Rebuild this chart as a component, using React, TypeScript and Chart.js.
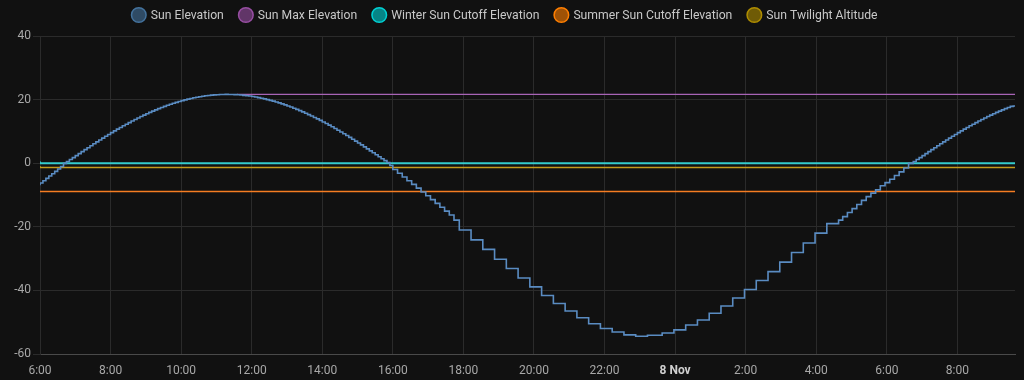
import React, { useEffect, useRef } from 'react';
import { Chart, registerables } from 'chart.js';

Chart.register(...registerables);

// x values are minutes since 06:00 on 7 Nov
const seriesNames = [
  'Sun Elevation',
  'Sun Max Elevation',
  'Winter Sun Cutoff Elevation',
  'Summer Sun Cutoff Elevation',
  'Sun Twilight Altitude',
];

const xTickLabels = ['6:00', '8:00', '10:00', '12:00', '14:00', '16:00', '18:00', '20:00', '22:00', '8 Nov', '2:00', '4:00', '6:00', '8:00'];
const xTickMinutes = [0, 120, 240, 360, 480, 600, 720, 840, 960, 1080, 1200, 1320, 1440, 1560];
const yTickValues = [-60, -40, -20, 0, 20, 40];
const xEnd = 1658;

const sunElevation: [number, number][] = [
  [0, -6.96], [5, -6.23], [10, -5.5], [15, -4.76], [20, -4.04], [25, -3.3], [30, -2.58], [35, -1.82], [40, -1.05], [45, -0.04],
  [50, 0.55], [55, 1.15], [60, 1.76], [65, 2.38], [70, 3.0], [75, 3.63], [80, 4.26], [85, 4.88], [90, 5.5], [95, 6.11],
  [100, 6.7], [105, 7.3], [110, 7.89], [115, 8.46], [120, 9.03], [125, 9.6], [130, 10.15], [135, 10.7], [140, 11.23], [145, 11.76],
  [150, 12.27], [155, 12.77], [160, 13.27], [165, 13.75], [170, 14.21], [175, 14.67], [180, 15.12], [185, 15.55], [190, 15.97], [195, 16.38],
  [200, 16.77], [205, 17.15], [210, 17.52], [215, 17.87], [220, 18.21], [225, 18.53], [230, 18.84], [235, 19.13], [240, 19.41], [245, 19.67],
  [250, 19.91], [255, 20.14], [260, 20.36], [265, 20.56], [270, 20.74], [275, 20.9], [280, 21.05], [285, 21.19], [290, 21.3], [295, 21.4],
  [300, 21.48], [305, 21.54], [310, 21.59], [315, 21.62], [320, 21.63], [325, 21.62], [330, 21.6], [335, 21.56], [340, 21.51], [345, 21.43],
  [350, 21.34], [355, 21.23], [360, 21.11], [365, 20.96], [370, 20.8], [375, 20.63], [380, 20.44], [385, 20.23], [390, 20.0], [395, 19.76],
  [400, 19.51], [405, 19.24], [410, 18.96], [415, 18.66], [420, 18.34], [425, 18.01], [430, 17.66], [435, 17.3], [440, 16.92], [445, 16.53],
  [450, 16.14], [455, 15.72], [460, 15.29], [465, 14.85], [470, 14.39], [475, 13.94], [480, 13.46], [485, 12.97], [490, 12.47], [495, 11.97],
  [500, 11.44], [505, 10.91], [510, 10.37], [515, 9.82], [520, 9.26], [525, 8.69], [530, 8.12], [535, 7.54], [540, 6.94], [545, 6.35],
  [550, 5.75], [555, 5.13], [560, 4.52], [565, 3.89], [570, 3.27], [575, 2.65], [580, 2.03], [585, 1.42], [590, 0.82], [595, 0.24],
  [600, -0.7], [608, -1.98], [616, -3.16], [624, -4.33], [632, -5.5], [640, -6.67], [648, -7.85], [656, -9.04], [664, -10.24], [672, -11.44],
  [680, -12.64], [688, -13.86], [696, -15.08], [704, -16.3],
  [713, -17.9], [733, -21.0], [753, -24.1], [773, -27.1], [793, -30.2], [813, -33.1], [833, -36.1], [853, -38.9], [873, -41.6], [893, -44.1],
  [913, -46.5], [933, -48.6], [953, -50.5], [973, -52.0], [993, -53.1], [1013, -54.0], [1033, -54.4], [1058, -54.1], [1078, -53.4], [1098, -52.4],
  [1118, -50.9], [1138, -49.3], [1158, -47.2], [1178, -44.9], [1198, -42.4], [1218, -39.7], [1238, -36.9], [1258, -34.1], [1278, -31.1], [1298, -28.1],
  [1318, -25.1], [1338, -22.0], [1358, -19.0],
  [1365, -17.9], [1373, -16.8], [1381, -15.5], [1389, -14.3], [1397, -13.0], [1405, -11.7], [1413, -10.5], [1421, -9.4], [1429, -8.4], [1437, -7.1],
  [1445, -6.1], [1453, -5.06], [1461, -3.89], [1469, -2.72], [1477, -1.51],
  [1485, -0.04], [1490, 0.55], [1495, 1.15], [1500, 1.76], [1505, 2.38], [1510, 3.0], [1515, 3.63], [1520, 4.26], [1525, 4.88], [1530, 5.5],
  [1535, 6.11], [1540, 6.7], [1545, 7.3], [1550, 7.89], [1555, 8.46], [1560, 9.03], [1565, 9.6], [1570, 10.15], [1575, 10.7], [1580, 11.23],
  [1585, 11.76], [1590, 12.27], [1595, 12.77], [1600, 13.27], [1605, 13.75], [1610, 14.21], [1615, 14.67], [1620, 15.12], [1625, 15.55], [1630, 15.97],
  [1635, 16.38], [1640, 16.77], [1645, 17.15], [1650, 17.52], [1655, 17.87], [1658, 18.0],
];

const sunMaxElevation: [number, number][] = [[335, 21.65], [1658, 21.65]];
const winterCutoff: [number, number][] = [[0, 0.55], [608, 0.0], [1658, 0.0]];
const summerCutoff: [number, number][] = [[0, -8.9], [1658, -8.9]];
const twilightAltitude: [number, number][] = [[0, -0.9], [1079, -1.35], [1658, -1.35]];

const seriesData = [sunElevation, sunMaxElevation, winterCutoff, summerCutoff, twilightAltitude];
const lineColors = ['#5a8cc2', '#a864b6', '#34cccd', '#f57d22', '#c49c1c'];
const legendColors = ['#44739e', '#984ea3', '#00d2d5', '#ff7f00', '#af8d00'];
const lineWidths = [1.6, 1.4, 2, 1.4, 1.4];

const FONT = 'Roboto, "Noto Sans", sans-serif';

function rgba(hex: string, a: number) {
  const n = parseInt(hex.slice(1), 16);
  return `rgba(${(n >> 16) & 255},${(n >> 8) & 255},${n & 255},${a})`;
}

const legendPlugin = {
  id: 'topLegend',
  afterDraw(chart: any) {
    const ctx = chart.ctx as CanvasRenderingContext2D;
    ctx.save();
    ctx.font = `12.2px ${FONT}`;
    const r = 7.3;
    const textOff = 12;
    const gap = 22;
    const widths = seriesNames.map((n) => ctx.measureText(n).width);
    let total = r;
    widths.forEach((w, i) => {
      total += textOff + w + (i < widths.length - 1 ? gap : 0);
    });
    let x = 504.5 - total / 2 + r;
    const cy = 15;
    seriesNames.forEach((name, i) => {
      ctx.beginPath();
      ctx.arc(x, cy, r, 0, Math.PI * 2);
      ctx.fillStyle = rgba(legendColors[i], 0.6);
      ctx.fill();
      ctx.lineWidth = 1.5;
      ctx.strokeStyle = legendColors[i];
      ctx.stroke();
      ctx.fillStyle = '#c8c8c8';
      ctx.textBaseline = 'middle';
      ctx.textAlign = 'left';
      ctx.fillText(name, x + textOff, cy + 0.5);
      x += textOff + widths[i] + gap;
    });
    ctx.restore();
  },
};

export default function App() {
  const ref = useRef<HTMLCanvasElement>(null);

  useEffect(() => {
    document.body.style.margin = '0';
    document.body.style.background = '#111111';
    Chart.defaults.font.family = FONT;
    const chart = new Chart(ref.current as HTMLCanvasElement, {
      type: 'line',
      data: {
        datasets: seriesNames.map((name, i) => ({
          label: name,
          data: seriesData[i].map(([x, y]) => ({ x, y })),
          borderColor: lineColors[i],
          backgroundColor: lineColors[i],
          borderWidth: lineWidths[i],
          stepped: 'after' as const,
          pointRadius: 0,
          fill: false,
        })),
      },
      options: {
        animation: false,
        responsive: false,
        maintainAspectRatio: false,
        layout: { padding: { top: 36, right: 9, left: 0, bottom: 0 } },
        plugins: { legend: { display: false }, tooltip: { enabled: false } },
        scales: {
          x: {
            type: 'linear',
            min: 0,
            max: xEnd,
            afterBuildTicks: (s: any) => {
              s.ticks = xTickMinutes.map((v) => ({ value: v }));
            },
            afterFit: (s: any) => {
              s.height = 26;
            },
            grid: { color: '#2b2b2b', drawTicks: false },
            border: { color: '#4a4a4a', width: 1 },
            ticks: {
              autoSkip: false,
              maxRotation: 0,
              padding: 10,
              callback: (_v: any, i: number) => xTickLabels[i],
              color: (c: any) => (xTickLabels[c.index] === '8 Nov' ? '#d0d0d0' : '#a8a8a8'),
              font: (c: any) => ({ family: FONT, size: 12, weight: xTickLabels[c.index] === '8 Nov' ? 'bold' : 'normal' }),
            },
          },
          y: {
            min: -60,
            max: 40,
            afterBuildTicks: (s: any) => {
              s.ticks = yTickValues.map((v) => ({ value: v }));
            },
            afterFit: (s: any) => {
              s.width = 40;
            },
            grid: { color: '#2b2b2b', tickLength: 7 },
            border: { color: '#2b2b2b' },
            ticks: {
              padding: 2,
              color: '#a8a8a8',
              font: { family: FONT, size: 12 },
              callback: (v: any) => String(v),
            },
          },
        },
      },
      plugins: [legendPlugin],
    } as any);
    return () => chart.destroy();
  }, []);

  return <canvas ref={ref} width={1024} height={380} style={{ display: 'block' }} />;
}
